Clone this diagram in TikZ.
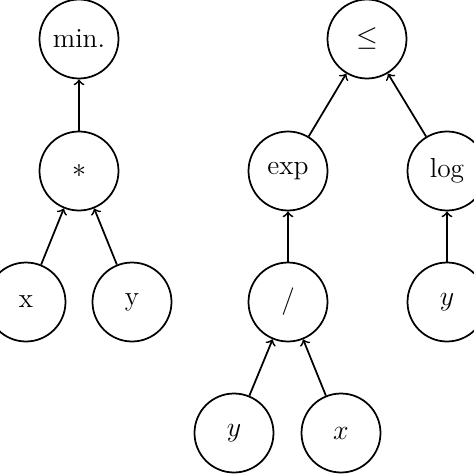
\documentclass[tikz,border=0pt]{standalone}
\begin{document}
\begin{tikzpicture}[x=0.4292pt,y=-0.4292pt,
  tn/.style={circle,draw,line width=0.75pt,minimum size=33.9pt,inner sep=0pt,font=\fontsize{11.8}{14}\selectfont},
  ed/.style={->,line width=0.75pt}]
\useasboundingbox (0,0) rectangle (474,474);
% left tree
\node[tn] (min) at (79,39) {min.};
\node[tn] (mul) at (79,171) {$*$};
\node[tn] (lx) at (26,302) {x};
\node[tn] (ly) at (132,302) {y};
% right tree
\node[tn] (leq) at (367,39) {$\leq$};
\node[tn] (exp) at (288,171) {exp};
\node[tn] (log) at (447,171) {log};
\node[tn] (div) at (288,302) {/};
\node[tn] (ry) at (447,302) {$y$};
\node[tn] (by) at (234,433) {$y$};
\node[tn] (bx) at (341,433) {$x$};
\draw[ed] (mul) -- (min);
\draw[ed] (lx) -- (mul);
\draw[ed] (ly) -- (mul);
\draw[ed] (exp) -- (leq);
\draw[ed] (log) -- (leq);
\draw[ed] (div) -- (exp);
\draw[ed] (ry) -- (log);
\draw[ed] (by) -- (div);
\draw[ed] (bx) -- (div);
\end{tikzpicture}
\end{document}
